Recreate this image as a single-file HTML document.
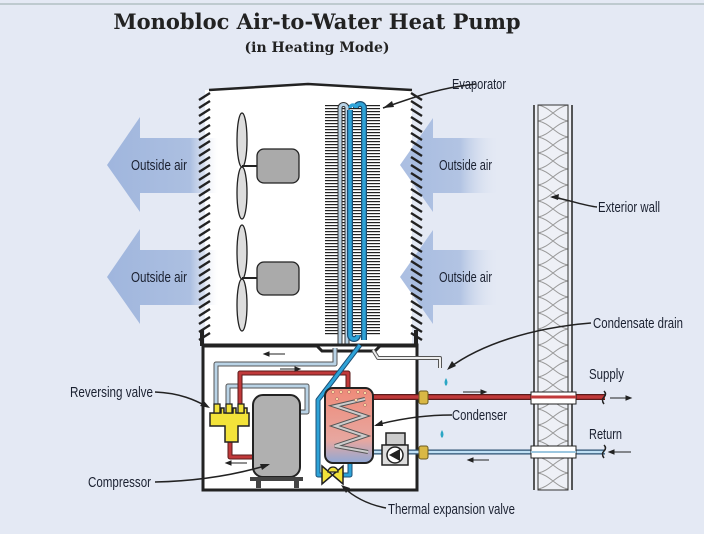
<!DOCTYPE html>
<html><head><meta charset="utf-8"><style>
html,body{margin:0;padding:0;background:#e4e9f4;}
svg{display:block;}
text{font-family:"Liberation Sans",sans-serif;fill:#1a2030;}
.lb{font-size:15px;}
</style></head><body>
<svg width="704" height="534" viewBox="0 0 704 534" xmlns="http://www.w3.org/2000/svg">
<defs>
<linearGradient id="al" x1="0" x2="1"><stop offset="0" stop-color="#9cb3dc"/><stop offset="0.75" stop-color="#a9bde0"/><stop offset="1" stop-color="#e4e9f4" stop-opacity="0"/></linearGradient>
<linearGradient id="ar" x1="0" x2="1"><stop offset="0" stop-color="#9cb3dc"/><stop offset="0.6" stop-color="#a9bde0"/><stop offset="1" stop-color="#e4e9f4" stop-opacity="0"/></linearGradient>
<linearGradient id="tank" x1="0" x2="0" y1="0" y2="1"><stop offset="0" stop-color="#ef8a78"/><stop offset="0.7" stop-color="#e7a7a0"/><stop offset="1" stop-color="#8fa8d6"/></linearGradient>
<pattern id="fins" width="10" height="3" patternUnits="userSpaceOnUse"><rect width="10" height="1.2" fill="#222"/></pattern>
<pattern id="ins" width="30" height="16" patternUnits="userSpaceOnUse" x="538" y="105"><path d="M0,0 C12,2 18,14 30,16 M0,16 C12,14 18,2 30,0" fill="none" stroke="#999" stroke-width="1"/></pattern>
</defs>
<rect x="0" y="0" width="704" height="534" fill="#e4e9f4"/>
<line x1="0" y1="4" x2="704" y2="4" stroke="#9aa" stroke-width="1"/>
<text x="317" y="29" text-anchor="middle" style="font-family:'DejaVu Serif','Liberation Serif',serif;font-size:21px;font-weight:bold;fill:#222">Monobloc Air-to-Water Heat Pump</text>
<text x="317" y="52" text-anchor="middle" style="font-family:'DejaVu Serif','Liberation Serif',serif;font-size:14px;font-weight:bold;fill:#222">(in Heating Mode)</text>

<!-- unit upper -->
<polygon points="209,90 308,84 412,90 412,345 205,345 205,90" fill="#fff"/>
<polyline points="209,90 308,84 412,90" fill="none" stroke="#222" stroke-width="2.5"/>

<!-- arrows -->
<polygon points="107,165 140,117 140,138 218,138 218,193 140,193 140,212" fill="url(#al)" opacity="0.95"/>
<polygon points="107,277 140,229 140,250 218,250 218,305 140,305 140,324" fill="url(#al)" opacity="0.95"/>
<polygon points="400,165 433,118 433,138 500,138 500,193 433,193 433,212" fill="url(#ar)" opacity="0.85"/>
<polygon points="400,277 433,230 433,250 500,250 500,305 433,305 433,324" fill="url(#ar)" opacity="0.85"/>

<!-- hatches -->
<path d="M199,100 l11,-7 m-11,15 l11,-7 m-11,15 l11,-7 m-11,15 l11,-7 m-11,15 l11,-7 m-11,15 l11,-7 m-11,15 l11,-7 m-11,15 l11,-7 m-11,15 l11,-7 m-11,15 l11,-7 m-11,15 l11,-7 m-11,15 l11,-7 m-11,15 l11,-7 m-11,15 l11,-7 m-11,15 l11,-7 m-11,15 l11,-7 m-11,15 l11,-7 m-11,15 l11,-7 m-11,15 l11,-7 m-11,15 l11,-7 m-11,15 l11,-7 m-11,15 l11,-7 m-11,15 l11,-7 m-11,15 l11,-7 m-11,15 l11,-7 m-11,15 l11,-7 m-11,15 l11,-7 m-11,15 l11,-7 m-11,15 l11,-7 m-11,15 l11,-7 m-11,15 l11,-7" stroke="#222" stroke-width="2.4" fill="none"/>
<path d="M411,93 l11,7 m-11,1 l11,7 m-11,1 l11,7 m-11,1 l11,7 m-11,1 l11,7 m-11,1 l11,7 m-11,1 l11,7 m-11,1 l11,7 m-11,1 l11,7 m-11,1 l11,7 m-11,1 l11,7 m-11,1 l11,7 m-11,1 l11,7 m-11,1 l11,7 m-11,1 l11,7 m-11,1 l11,7 m-11,1 l11,7 m-11,1 l11,7 m-11,1 l11,7 m-11,1 l11,7 m-11,1 l11,7 m-11,1 l11,7 m-11,1 l11,7 m-11,1 l11,7 m-11,1 l11,7 m-11,1 l11,7 m-11,1 l11,7 m-11,1 l11,7 m-11,1 l11,7 m-11,1 l11,7 m-11,1 l11,7" stroke="#222" stroke-width="2.4" fill="none"/>

<text class="lb" x="131" y="170" textLength="56" lengthAdjust="spacingAndGlyphs">Outside air</text>
<text class="lb" x="131" y="282" textLength="56" lengthAdjust="spacingAndGlyphs">Outside air</text>
<text class="lb" x="439" y="170" textLength="53" lengthAdjust="spacingAndGlyphs">Outside air</text>
<text class="lb" x="439" y="282" textLength="53" lengthAdjust="spacingAndGlyphs">Outside air</text>

<!-- fans -->
<g stroke="#222" stroke-width="1.3" fill="#ddd">
<ellipse cx="242" cy="140" rx="5" ry="27"/><ellipse cx="242" cy="193" rx="5" ry="26"/>
<ellipse cx="242" cy="252" rx="5" ry="27"/><ellipse cx="242" cy="305" rx="5" ry="26"/>
<line x1="242" y1="166" x2="258" y2="166" stroke-width="2"/><line x1="242" y1="278" x2="258" y2="278" stroke-width="2"/>
<rect x="257" y="149" width="42" height="34" rx="7" fill="#aaa"/>
<rect x="257" y="262" width="42" height="33" rx="7" fill="#aaa"/>
</g>
<!-- evaporator -->
<rect x="325" y="104" width="55" height="232" fill="url(#fins)"/>
<path d="M340,348 V108 a3.5,3.5 0 0 1 7,0 V345" fill="none" stroke="#333" stroke-width="5"/>
<path d="M340,348 V108 a3.5,3.5 0 0 1 7,0 V345" fill="none" stroke="#b9d3e6" stroke-width="3"/>
<path d="M356,108 a4,4 0 0 1 8,0 V340" fill="none" stroke="#1c4f75" stroke-width="6"/>
<path d="M356,108 a4,4 0 0 1 8,0 V340" fill="none" stroke="#2ea3d8" stroke-width="3.5"/>
<path d="M350,110 V335 a4,4 0 0 0 8,0" fill="none" stroke="#1c4f75" stroke-width="6"/>
<path d="M350,108 a3,3 0 0 1 6,0 M350,110 V335 a4,4 0 0 0 8,0" fill="none" stroke="#2ea3d8" stroke-width="3.5"/>

<!-- lower box -->
<rect x="203" y="345" width="214" height="145" fill="#fff" stroke="#222" stroke-width="3"/>
<polyline points="203,346 317,346 322,351 375,351 380,346 417,346" fill="none" stroke="#222" stroke-width="3"/>
<rect x="200" y="330" width="4" height="16" fill="#222"/><rect x="414" y="330" width="4" height="16" fill="#222"/>

<!-- pipes -->
<g fill="none" stroke-linejoin="round">
<path d="M216,412 V364 H335 V348" stroke="#555" stroke-width="5"/><path d="M216,412 V364 H335 V348" stroke="#b9d3e6" stroke-width="3"/>
<path d="M228,412 V386 H307 V412 H300" stroke="#555" stroke-width="5"/><path d="M228,412 V386 H307 V412 H300" stroke="#b9d3e6" stroke-width="3"/>
<path d="M240,412 V373 H348 V390" stroke="#5a1a1a" stroke-width="5"/><path d="M240,412 V373 H348 V390" stroke="#c0393a" stroke-width="3"/>
<path d="M230,440 V457 H254" stroke="#5a1a1a" stroke-width="5"/><path d="M230,440 V457 H254" stroke="#c0393a" stroke-width="3"/>
<path d="M360,345 L318,400 V475 H328" stroke="#1c4f75" stroke-width="5"/><path d="M360,345 L318,400 V475 H328" stroke="#2ea3d8" stroke-width="3"/>
<path d="M340,475 H350 V460" stroke="#1c4f75" stroke-width="5"/><path d="M340,475 H350 V460" stroke="#2ea3d8" stroke-width="3"/>
<path d="M373,350 L378,358 H440 V368" stroke="#555" stroke-width="4"/><path d="M373,350 L378,358 H440 V368" stroke="#eee" stroke-width="2"/>
<path d="M370,397 H605" stroke="#5a1a1a" stroke-width="6"/><path d="M370,397 H605" stroke="#c0393a" stroke-width="3.5"/>
<path d="M372,452 H605" stroke="#2a5070" stroke-width="5"/><path d="M372,452 H605" stroke="#bfe0f5" stroke-width="2.5"/>
</g>
<!-- condenser -->
<rect x="325" y="388" width="48" height="75" rx="8" fill="url(#tank)" stroke="#222" stroke-width="2"/>
<polyline points="365,399 335,406 365,416 335,426 365,436 335,446 368,452" fill="none" stroke="#555" stroke-width="4"/>
<polyline points="365,399 335,406 365,416 335,426 365,436 335,446 368,452" fill="none" stroke="#ccc" stroke-width="2"/>
<g fill="#f7d9a0" stroke="#a66" stroke-width="0.5"><circle cx="333" cy="392" r="1.5"/><circle cx="341" cy="392" r="1.5"/><circle cx="349" cy="392" r="1.5"/><circle cx="358" cy="392" r="1.5"/><circle cx="365" cy="393" r="1.5"/><circle cx="337" cy="399" r="1.5"/><circle cx="356" cy="400" r="1.5"/><circle cx="365" cy="405" r="1.5"/></g>
<!-- compressor -->
<rect x="253" y="395" width="47" height="82" rx="10" fill="#b0b0b0" stroke="#222" stroke-width="2"/>
<rect x="250" y="477" width="53" height="4" fill="#444"/><rect x="256" y="481" width="5" height="7" fill="#444"/><rect x="294" y="481" width="5" height="7" fill="#444"/>
<!-- reversing valve -->
<path d="M210,413 h11 v-5 h3 v5 h9 v-5 h3 v5 h8 v-5 h3 v5 h2 v13 h-11 v16 h-13 v-16 h-15 z" fill="#f3e33a" stroke="#222" stroke-width="1.5"/>
<path d="M214,404 h6 v9 h-6z M226,404 h6 v9 h-6z M238,404 h6 v9 h-6z" fill="#f3e33a" stroke="#222" stroke-width="1.3"/>
<!-- expansion valve -->
<polygon points="322,466 343,484 343,466 322,484" fill="#f3e33a" stroke="#222" stroke-width="1.5"/>
<path d="M328,472 a5,5 0 0 1 10,0 z" fill="#f3e33a" stroke="#222" stroke-width="1.3"/>
<!-- pump -->
<rect x="386" y="433" width="19" height="12" fill="#ccc" stroke="#222" stroke-width="1.5"/>
<rect x="382" y="445" width="26" height="20" fill="#ddd" stroke="#222" stroke-width="1.5"/>
<circle cx="395" cy="455" r="8" fill="#fff" stroke="#222" stroke-width="1.5"/>
<polygon points="389,455 400,449 400,461" fill="#222"/>
<!-- fittings -->
<rect x="419" y="391" width="9" height="13" rx="2" fill="#d9b845" stroke="#6b5a20"/>
<rect x="419" y="446" width="9" height="13" rx="2" fill="#d9b845" stroke="#6b5a20"/>
<!-- drops -->
<path d="M446,378 q3,5 0,8 q-3,-3 0,-8z" fill="#2aa6c4"/>
<path d="M442,430 q3,5 0,8 q-3,-3 0,-8z" fill="#2aa6c4"/>
<!-- small flow arrows -->
<g stroke="#222" stroke-width="1" fill="#222">
<line x1="266" y1="354" x2="285" y2="354"/><polygon points="264,354 269,352 269,356"/>
<line x1="280" y1="369" x2="298" y2="369"/><polygon points="300,369 295,367 295,371"/>
<line x1="228" y1="463" x2="247" y2="463"/><polygon points="226,463 231,461 231,465"/>
<line x1="463" y1="392" x2="484" y2="392"/><polygon points="486,392 481,390 481,394"/>
<line x1="470" y1="460" x2="489" y2="460"/><polygon points="468,460 473,458 473,462"/>
<line x1="610" y1="398" x2="628" y2="398"/><polygon points="631,398 626,396 626,400"/>
<line x1="612" y1="452" x2="631" y2="452"/><polygon points="609,452 614,450 614,454"/>
</g>

<!-- wall -->
<rect x="534" y="105" width="38" height="385" fill="#eef0f6"/>
<rect x="538" y="105" width="30" height="385" fill="url(#ins)"/>
<rect x="538" y="105" width="30" height="385" fill="none" stroke="#333" stroke-width="1"/>
<line x1="534" y1="105" x2="534" y2="490" stroke="#222" stroke-width="1.5"/>
<line x1="572" y1="105" x2="572" y2="490" stroke="#222" stroke-width="1.5"/>
<rect x="531" y="392" width="45" height="12" fill="#fff" stroke="#222"/>
<line x1="531" y1="397" x2="576" y2="397" stroke="#c0393a" stroke-width="3"/>
<rect x="531" y="446" width="45" height="12" fill="#fff" stroke="#222"/>
<line x1="531" y1="452" x2="576" y2="452" stroke="#9cc7e0" stroke-width="2"/>
<path d="M604,391 q3,3 0,6 q-3,3 0,7" fill="none" stroke="#222" stroke-width="1.5"/>
<path d="M604,445 q3,3 0,6 q-3,3 0,7" fill="none" stroke="#222" stroke-width="1.5"/>

<!-- leaders -->
<g fill="none" stroke="#222" stroke-width="1.5">
<path d="M476,84 C440,88 420,95 383,108"/>
<path d="M597,207 C585,206 570,200 552,197"/>
<path d="M591,323 C530,328 480,345 449,368"/>
<path d="M452,415 C420,415 395,420 376,425"/>
<path d="M155,392 C180,393 195,400 208,407"/>
<path d="M155,482 C200,481 235,475 268,465"/>
<path d="M386,508 C370,505 355,498 343,487"/>
</g>
<g fill="#222">
<polygon points="383,108 392,101 394,107"/>
<polygon points="550,197 559,194 558,200"/>
<polygon points="447,370 452,361 456,366"/>
<polygon points="374,426 382,420 383,426"/>
<polygon points="210,408 200,406 204,401"/>
<polygon points="270,464 262,470 260,464"/>
<polygon points="341,485 350,488 346,493"/>
</g>
<text class="lb" x="452" y="89" textLength="54" lengthAdjust="spacingAndGlyphs">Evaporator</text>
<text class="lb" x="598" y="212" textLength="62" lengthAdjust="spacingAndGlyphs">Exterior wall</text>
<text class="lb" x="593" y="328" textLength="90" lengthAdjust="spacingAndGlyphs">Condensate drain</text>
<text class="lb" x="589" y="379" textLength="35" lengthAdjust="spacingAndGlyphs">Supply</text>
<text class="lb" x="589" y="439" textLength="33" lengthAdjust="spacingAndGlyphs">Return</text>
<text class="lb" x="452" y="420" textLength="55" lengthAdjust="spacingAndGlyphs">Condenser</text>
<text class="lb" x="70" y="397" textLength="83" lengthAdjust="spacingAndGlyphs">Reversing valve</text>
<text class="lb" x="88" y="487" textLength="63" lengthAdjust="spacingAndGlyphs">Compressor</text>
<text class="lb" x="388" y="514" textLength="127" lengthAdjust="spacingAndGlyphs">Thermal expansion valve</text>
</svg>
</body></html>
